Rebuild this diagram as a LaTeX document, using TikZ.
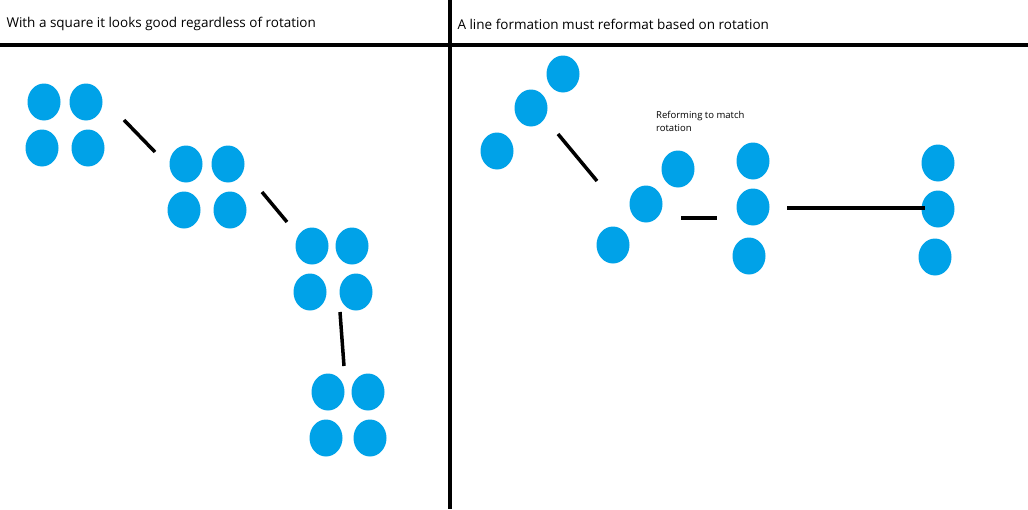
\documentclass[tikz,border=0pt]{standalone}
\usepackage{fontspec}
\setmainfont{Open Sans}
\begin{document}
\begin{tikzpicture}[x=1pt,y=-1pt,
  dot/.style={fill=blob,draw=none},
  bar/.style={line width=3.5pt,black}]
\definecolor{blob}{HTML}{00A2E8}
\useasboundingbox (0,0) rectangle (1028,509);
\fill[white] (0,0) rectangle (1028,509);
\draw[line width=3.5pt] (0,45) -- (1028,45);
\draw[line width=3.5pt] (450,0) -- (450,509);
\node[anchor=west,font=\fontsize{13.5}{16}\selectfont] (h1) at (3,24) {With a square it looks good regardless of rotation};
\node[anchor=west,font=\fontsize{13.5}{16}\selectfont] (h2) at (454,24) {A line formation must reformat based on rotation};
\node[anchor=north west,align=left,font=\fontsize{9.5}{13}\selectfont,inner sep=0pt] (lbl) at (656,111) {Reforming to match\\rotation};
\foreach \x/\y in {44/102,86/102,42/148,88/148,186/164,228/164,184/210,230/210,
  312/246,352/246,310/292,356/292,328/392,368/392,326/438,370/438,
  563/74,531/108,497/151,613/245,646/204,678/169,753/161,753/207,749/256,
  938/163,938/209,935/257}
  \fill[blob] (\x,\y) ellipse (16.5 and 18.5);
\draw[bar] (124,120) -- (155,152);
\draw[bar] (262,192) -- (287,222);
\draw[bar] (340,312) -- (344,366);
\draw[bar] (558,134) -- (597,181);
\draw[bar] (681,218) -- (717,218);
\draw[bar] (787,208) -- (925,208);
\end{tikzpicture}
\end{document}
